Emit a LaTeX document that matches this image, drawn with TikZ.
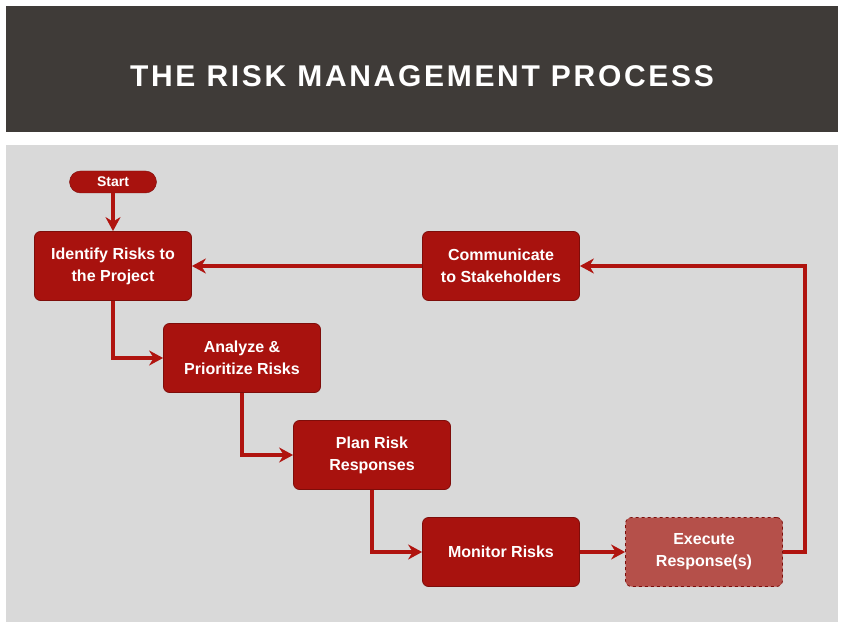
\documentclass[tikz,border=0pt]{standalone}
\usepackage{fontspec}
\setmainfont{Liberation Sans}
\usetikzlibrary{arrows.meta}
\definecolor{bar}{HTML}{3F3B38}
\definecolor{panel}{HTML}{D9D9D9}
\definecolor{boxred}{HTML}{A8120E}
\definecolor{boxedge}{HTML}{7E0D0A}
\definecolor{exred}{HTML}{B5504A}
\definecolor{arr}{HTML}{B0140F}
\begin{document}
\begin{tikzpicture}[x=1pt,y=-1pt,
  stepbox/.style={draw=boxedge,fill=boxred,rounded corners=6pt,minimum width=157pt,minimum height=69pt,
    text=white,font=\bfseries\fontsize{16}{22}\selectfont,align=center,line width=0.8pt},
  conn/.style={draw=arr,line width=3.2pt,-{Stealth[length=14pt,width=15pt]}}]
\useasboundingbox (0,0) rectangle (845,628);
\fill[white] (0,0) rectangle (845,628);
\fill[bar] (6,6) rectangle (838,132);
\node[text=white,font=\bfseries\fontsize{30}{34}\selectfont] (title) at (422,76) {\addfontfeatures{LetterSpace=9}THE RISK MANAGEMENT PROCESS};
\fill[panel] (6,145) rectangle (838,622);
\node[draw=boxedge,fill=boxred,rounded corners=11pt,minimum width=87pt,minimum height=22pt,inner sep=0pt,
  text=white,font=\bfseries\fontsize{14}{16}\selectfont] (start) at (113,182) {Start};
\node[stepbox] (ident) at (113,266) {Identify Risks to\\the Project};
\node[stepbox] (anal) at (242,358) {Analyze \&\\Prioritize Risks};
\node[stepbox] (plan) at (372,455) {Plan Risk\\Responses};
\node[stepbox] (mon) at (501,552) {Monitor Risks};
\node[stepbox,fill=exred,draw=boxedge,dashed] (exec) at (704,552) {Execute\\Response(s)};
\node[stepbox] (comm) at (501,266) {Communicate\\to Stakeholders};
\coordinate (c1) at (805,552);
\coordinate (c2) at (805,266);
\draw[conn] (start) -- (ident);
\draw[conn] (ident.south) |- (anal.west);
\draw[conn] (anal.south) |- (plan.west);
\draw[conn] (plan.south) |- (mon.west);
\draw[conn] (mon) -- (exec);
\draw[conn] (exec.east) -- (c1) -- (c2) -- (comm.east);
\draw[conn] (comm.west) -- (ident.east);
\end{tikzpicture}
\end{document}
